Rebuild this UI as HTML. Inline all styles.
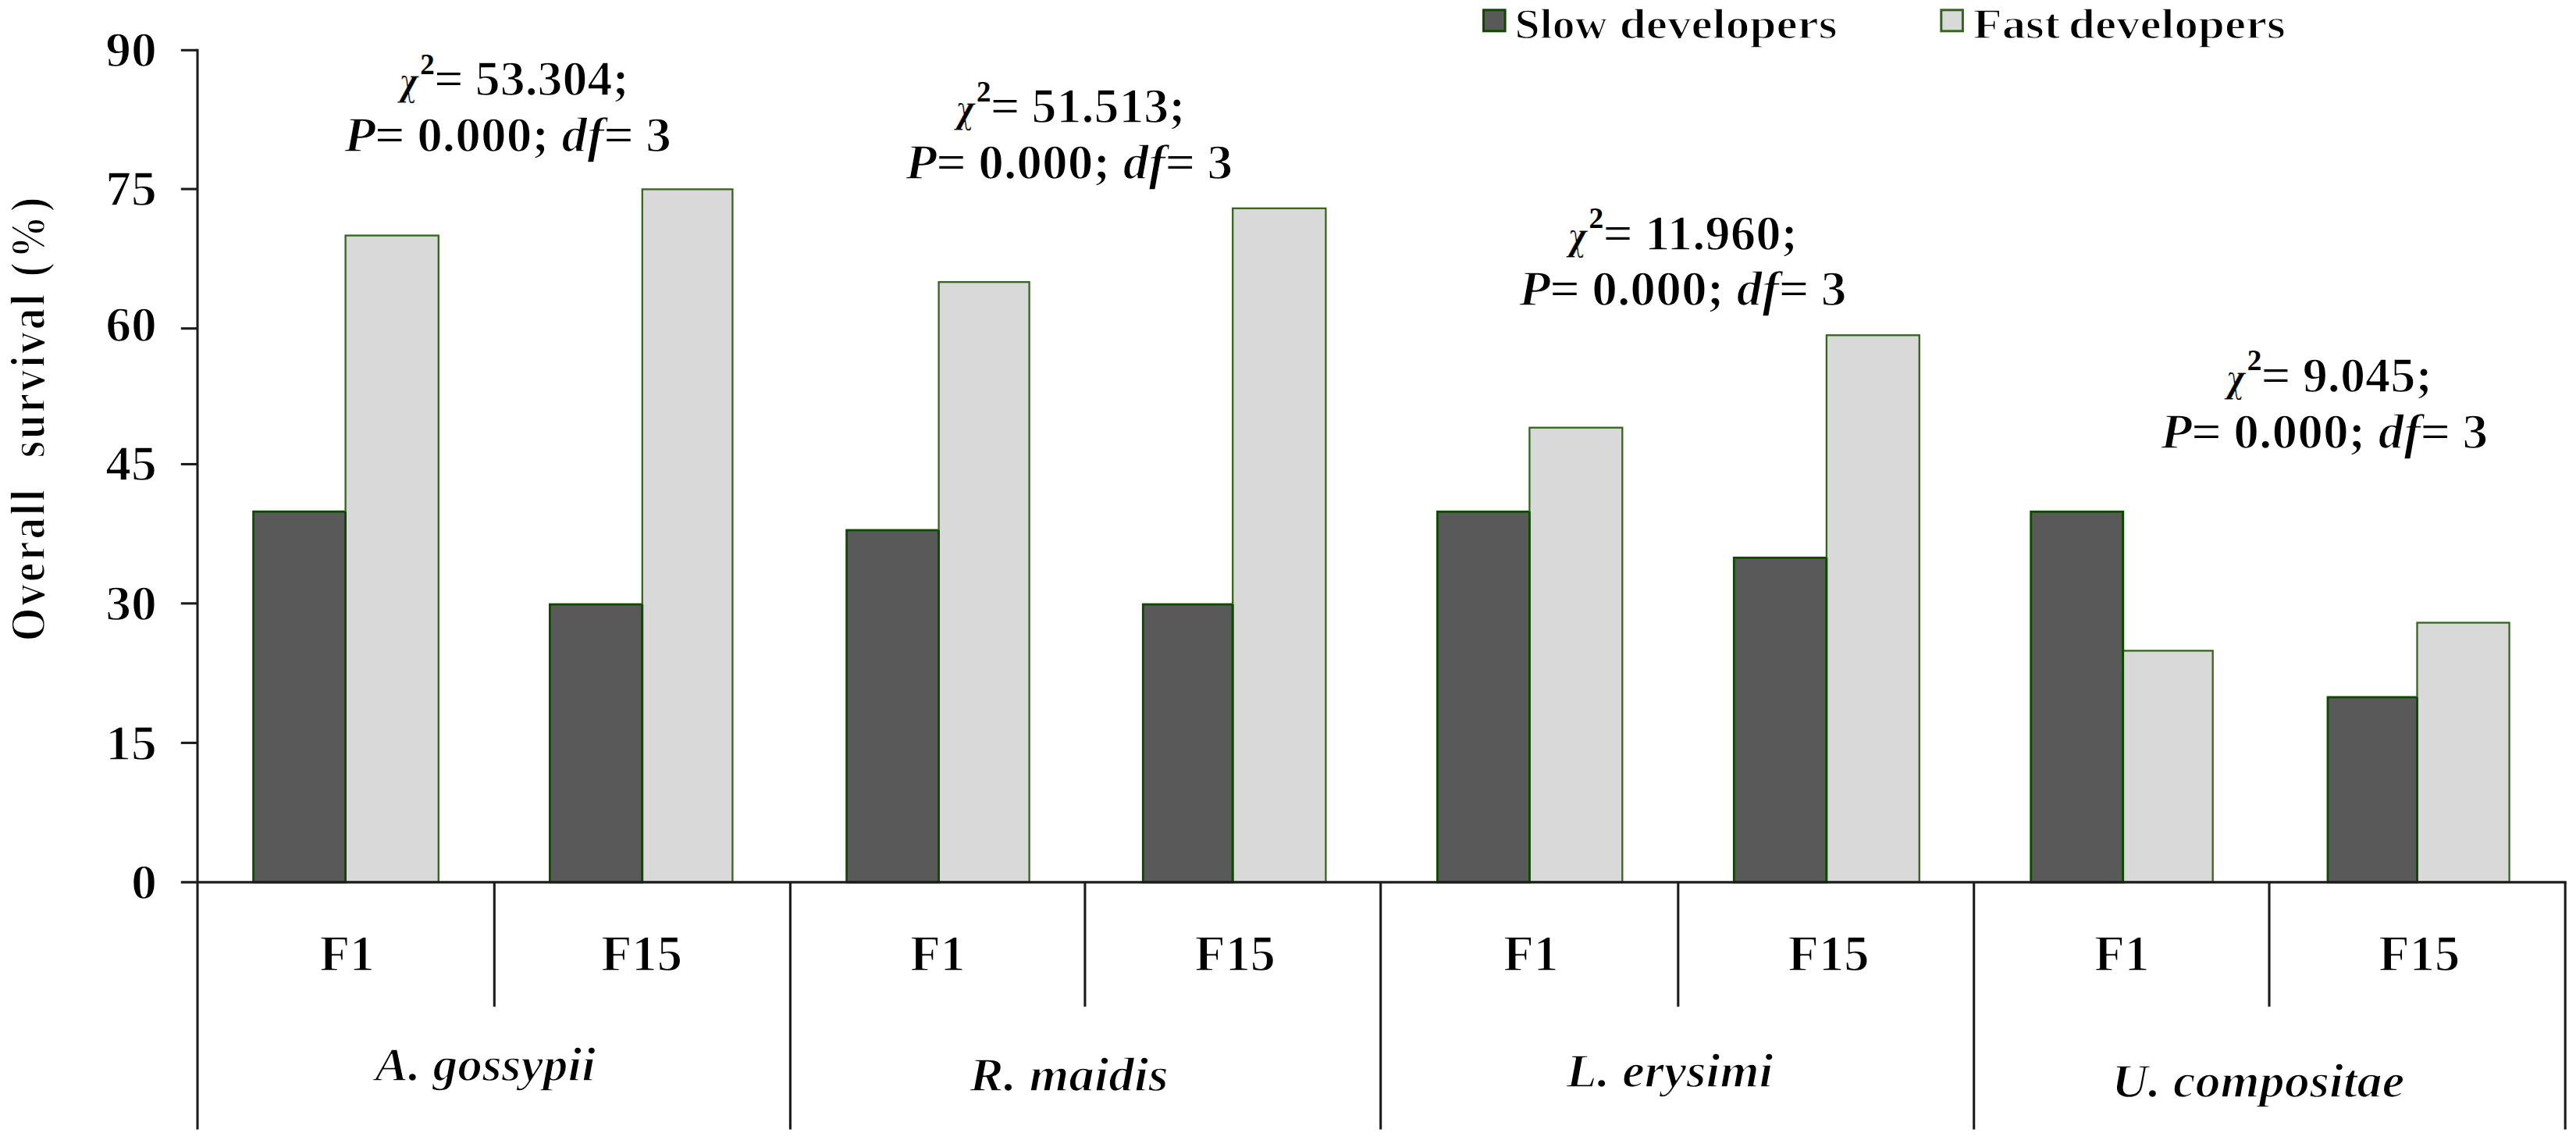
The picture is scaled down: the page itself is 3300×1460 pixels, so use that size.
<!DOCTYPE html>
<html lang="en"><head><meta charset="utf-8"><title>Overall survival chart</title>
<style>html,body{margin:0;padding:0;background:#fff;overflow:hidden}svg{display:block}text{font-family:"Liberation Serif","DejaVu Serif",serif;font-weight:bold;fill:#000;stroke:#fff;stroke-width:1.5px;stroke-linejoin:round}.i{font-style:italic}.r{font-weight:normal;stroke:none}.x{font-family:"DejaVu Serif","Liberation Serif",serif;stroke-width:.8px}</style></head><body>
<svg width="3300" height="1460" viewBox="0 0 3300 1460">
<rect x="0" y="0" width="3300" height="1460" fill="#fff"/>
<g>
<rect x="324.60" y="655.20" width="118.00" height="474.70" fill="#595959" stroke="#0d4a00" stroke-width="2.80"/>
<rect x="442.60" y="301.60" width="119.20" height="828.30" fill="#d9d9d9" stroke="#33661a" stroke-width="2.30"/>
<line x1="442.60" y1="655.20" x2="442.60" y2="1129.90" stroke="#0d4a00" stroke-width="2.80"/>
<rect x="704.40" y="774.00" width="118.40" height="355.90" fill="#595959" stroke="#0d4a00" stroke-width="2.80"/>
<rect x="822.80" y="242.40" width="115.60" height="887.50" fill="#d9d9d9" stroke="#33661a" stroke-width="2.30"/>
<line x1="822.80" y1="774.00" x2="822.80" y2="1129.90" stroke="#0d4a00" stroke-width="2.80"/>
<rect x="1084.60" y="679.00" width="118.00" height="450.90" fill="#595959" stroke="#0d4a00" stroke-width="2.80"/>
<rect x="1202.60" y="361.20" width="116.00" height="768.70" fill="#d9d9d9" stroke="#33661a" stroke-width="2.30"/>
<line x1="1202.60" y1="679.00" x2="1202.60" y2="1129.90" stroke="#0d4a00" stroke-width="2.80"/>
<rect x="1464.30" y="774.00" width="114.90" height="355.90" fill="#595959" stroke="#0d4a00" stroke-width="2.80"/>
<rect x="1579.20" y="266.80" width="119.20" height="863.10" fill="#d9d9d9" stroke="#33661a" stroke-width="2.30"/>
<line x1="1579.20" y1="774.00" x2="1579.20" y2="1129.90" stroke="#0d4a00" stroke-width="2.80"/>
<rect x="1841.40" y="655.30" width="118.00" height="474.60" fill="#595959" stroke="#0d4a00" stroke-width="2.80"/>
<rect x="1959.40" y="547.70" width="118.90" height="582.20" fill="#d9d9d9" stroke="#33661a" stroke-width="2.30"/>
<line x1="1959.40" y1="655.30" x2="1959.40" y2="1129.90" stroke="#0d4a00" stroke-width="2.80"/>
<rect x="2221.30" y="714.30" width="118.60" height="415.60" fill="#595959" stroke="#0d4a00" stroke-width="2.80"/>
<rect x="2339.90" y="429.30" width="118.90" height="700.60" fill="#d9d9d9" stroke="#33661a" stroke-width="2.30"/>
<line x1="2339.90" y1="714.30" x2="2339.90" y2="1129.90" stroke="#0d4a00" stroke-width="2.80"/>
<rect x="2601.70" y="655.30" width="118.00" height="474.60" fill="#595959" stroke="#0d4a00" stroke-width="2.80"/>
<rect x="2719.70" y="833.40" width="115.00" height="296.50" fill="#d9d9d9" stroke="#33661a" stroke-width="2.30"/>
<line x1="2719.70" y1="655.30" x2="2719.70" y2="1129.90" stroke="#0d4a00" stroke-width="2.80"/>
<rect x="2982.00" y="892.90" width="114.50" height="237.00" fill="#595959" stroke="#0d4a00" stroke-width="2.80"/>
<rect x="3096.50" y="797.50" width="118.10" height="332.40" fill="#d9d9d9" stroke="#33661a" stroke-width="2.30"/>
<line x1="3096.50" y1="892.90" x2="3096.50" y2="1129.90" stroke="#0d4a00" stroke-width="2.80"/>
</g>
<g stroke="#1c1c1c" stroke-width="3.10" fill="none" stroke-linecap="butt">
<line x1="253.00" y1="62.75" x2="253.00" y2="1446.60"/>
<line x1="231.80" y1="1129.90" x2="3287.75" y2="1129.90"/>
<line x1="231.80" y1="64.30" x2="253.00" y2="64.30"/>
<line x1="231.80" y1="242.10" x2="253.00" y2="242.10"/>
<line x1="231.80" y1="420.70" x2="253.00" y2="420.70"/>
<line x1="231.80" y1="594.50" x2="253.00" y2="594.50"/>
<line x1="231.80" y1="772.80" x2="253.00" y2="772.80"/>
<line x1="231.80" y1="951.40" x2="253.00" y2="951.40"/>
<line x1="633.30" y1="1129.90" x2="633.30" y2="1289.30"/>
<line x1="1012.40" y1="1129.90" x2="1012.40" y2="1446.60"/>
<line x1="1389.90" y1="1129.90" x2="1389.90" y2="1289.30"/>
<line x1="1768.70" y1="1129.90" x2="1768.70" y2="1446.60"/>
<line x1="2149.80" y1="1129.90" x2="2149.80" y2="1289.30"/>
<line x1="2528.70" y1="1129.90" x2="2528.70" y2="1446.60"/>
<line x1="2907.00" y1="1129.90" x2="2907.00" y2="1289.30"/>
<line x1="3286.20" y1="1129.90" x2="3286.20" y2="1446.60"/>
</g>
<text x="200.90" y="85.10" font-size="64.00" textLength="65.60" lengthAdjust="spacingAndGlyphs" text-anchor="end" id="yt90" xml:space="preserve">90</text>
<text x="200.90" y="263.20" font-size="64.00" textLength="65.60" lengthAdjust="spacingAndGlyphs" text-anchor="end" id="yt75" xml:space="preserve">75</text>
<text x="200.90" y="437.40" font-size="64.00" textLength="65.60" lengthAdjust="spacingAndGlyphs" text-anchor="end" id="yt60" xml:space="preserve">60</text>
<text x="200.90" y="615.30" font-size="64.00" textLength="65.60" lengthAdjust="spacingAndGlyphs" text-anchor="end" id="yt45" xml:space="preserve">45</text>
<text x="200.90" y="794.20" font-size="64.00" textLength="65.60" lengthAdjust="spacingAndGlyphs" text-anchor="end" id="yt30" xml:space="preserve">30</text>
<text x="200.90" y="972.70" font-size="64.00" textLength="65.60" lengthAdjust="spacingAndGlyphs" text-anchor="end" id="yt15" xml:space="preserve">15</text>
<text x="200.90" y="1150.50" font-size="64.00" textLength="33.00" lengthAdjust="spacingAndGlyphs" text-anchor="end" id="yt0" xml:space="preserve">0</text>
<text x="409.40" y="1243.40" font-size="64.60" textLength="70.40" lengthAdjust="spacingAndGlyphs" id="f0" xml:space="preserve">F1</text>
<text x="769.90" y="1243.40" font-size="64.60" textLength="104.10" lengthAdjust="spacingAndGlyphs" id="f1" xml:space="preserve">F15</text>
<text x="1166.00" y="1243.40" font-size="64.60" textLength="70.50" lengthAdjust="spacingAndGlyphs" id="f2" xml:space="preserve">F1</text>
<text x="1530.60" y="1243.40" font-size="64.60" textLength="103.30" lengthAdjust="spacingAndGlyphs" id="f3" xml:space="preserve">F15</text>
<text x="1926.00" y="1243.40" font-size="64.60" textLength="70.50" lengthAdjust="spacingAndGlyphs" id="f4" xml:space="preserve">F1</text>
<text x="2290.60" y="1243.40" font-size="64.60" textLength="104.10" lengthAdjust="spacingAndGlyphs" id="f5" xml:space="preserve">F15</text>
<text x="2683.00" y="1243.40" font-size="64.60" textLength="70.50" lengthAdjust="spacingAndGlyphs" id="f6" xml:space="preserve">F1</text>
<text x="3047.30" y="1243.40" font-size="64.60" textLength="104.10" lengthAdjust="spacingAndGlyphs" id="f7" xml:space="preserve">F15</text>
<text x="480.40" y="1384.30" font-size="62.30" textLength="282.40" lengthAdjust="spacingAndGlyphs" class="i" id="sp0" xml:space="preserve">A. gossypii</text>
<text x="1242.00" y="1396.70" font-size="62.30" textLength="254.70" lengthAdjust="spacingAndGlyphs" class="i" id="sp1" xml:space="preserve">R. maidis</text>
<text x="2006.60" y="1392.30" font-size="62.30" textLength="264.90" lengthAdjust="spacingAndGlyphs" class="i" id="sp2" xml:space="preserve">L. erysimi</text>
<text x="2705.40" y="1405.10" font-size="62.30" textLength="374.90" lengthAdjust="spacingAndGlyphs" class="i" id="sp3" xml:space="preserve">U. compositae</text>
<text x="0.00" y="0.00" font-size="48.30" class="i x" transform="translate(511.00 122.10) scale(0.76 1)" id="a0x" xml:space="preserve">χ</text>
<text x="538.20" y="94.60" font-size="64.00" textLength="267.60" lengthAdjust="spacingAndGlyphs" id="a0a" xml:space="preserve"><tspan font-size="37" stroke="none">2</tspan><tspan class="r" dy="27.5">=</tspan> 53.304;</text>
<text x="440.90" y="194.40" font-size="64.00" textLength="419.20" lengthAdjust="spacingAndGlyphs" id="a0b" xml:space="preserve"><tspan class="i">P</tspan><tspan class="r">=</tspan> 0.000; <tspan class="i">df</tspan><tspan class="r">=</tspan> 3</text>
<text x="0.00" y="0.00" font-size="48.30" class="i x" transform="translate(1223.90 157.10) scale(0.76 1)" id="a1x" xml:space="preserve">χ</text>
<text x="1251.10" y="129.60" font-size="64.00" textLength="267.50" lengthAdjust="spacingAndGlyphs" id="a1a" xml:space="preserve"><tspan font-size="37" stroke="none">2</tspan><tspan class="r" dy="27.5">=</tspan> 51.513;</text>
<text x="1160.00" y="228.90" font-size="64.00" textLength="419.20" lengthAdjust="spacingAndGlyphs" id="a1b" xml:space="preserve"><tspan class="i">P</tspan><tspan class="r">=</tspan> 0.000; <tspan class="i">df</tspan><tspan class="r">=</tspan> 3</text>
<text x="0.00" y="0.00" font-size="48.30" class="i x" transform="translate(2008.30 319.80) scale(0.76 1)" id="a2x" xml:space="preserve">χ</text>
<text x="2035.50" y="292.30" font-size="64.00" textLength="267.60" lengthAdjust="spacingAndGlyphs" id="a2a" xml:space="preserve"><tspan font-size="37" stroke="none">2</tspan><tspan class="r" dy="27.5">=</tspan> 11.960;</text>
<text x="1945.90" y="390.70" font-size="64.00" textLength="419.60" lengthAdjust="spacingAndGlyphs" id="a2b" xml:space="preserve"><tspan class="i">P</tspan><tspan class="r">=</tspan> 0.000; <tspan class="i">df</tspan><tspan class="r">=</tspan> 3</text>
<text x="0.00" y="0.00" font-size="48.30" class="i x" transform="translate(2851.50 501.60) scale(0.76 1)" id="a3x" xml:space="preserve">χ</text>
<text x="2878.70" y="474.10" font-size="64.00" textLength="237.20" lengthAdjust="spacingAndGlyphs" id="a3a" xml:space="preserve"><tspan font-size="37" stroke="none">2</tspan><tspan class="r" dy="27.5">=</tspan> 9.045;</text>
<text x="2768.10" y="574.25" font-size="64.00" textLength="419.20" lengthAdjust="spacingAndGlyphs" id="a3b" xml:space="preserve"><tspan class="i">P</tspan><tspan class="r">=</tspan> 0.000; <tspan class="i">df</tspan><tspan class="r">=</tspan> 3</text>
<text x="0.00" y="48.90" font-size="54.70" id="lg0" xml:space="preserve"><tspan x="1940.6" textLength="118.5" lengthAdjust="spacingAndGlyphs">Slow</tspan> <tspan x="2074.8" textLength="278.8" lengthAdjust="spacingAndGlyphs">developers</tspan></text>
<text x="0.00" y="48.90" font-size="54.70" id="lg1" xml:space="preserve"><tspan x="2527.5" textLength="111.5" lengthAdjust="spacingAndGlyphs">Fast</tspan> <tspan x="2650.0" textLength="277.8" lengthAdjust="spacingAndGlyphs">developers</tspan></text>
<text x="0.00" y="0.00" font-size="55.00" letter-spacing="2.900" transform="translate(56.6 821.3) rotate(-90) scale(1 1.17)" id="ytitle" xml:space="preserve">Overall  <tspan x="235">survival</tspan> <tspan x="466.7" letter-spacing="5.2">(%)</tspan></text>
<rect x="1900.50" y="12.80" width="27.60" height="27.00" fill="#595959" stroke="#0d4a00" stroke-width="3"/>
<rect x="2486.80" y="12.80" width="27.60" height="27.00" fill="#d9d9d9" stroke="#33661a" stroke-width="3"/>
</svg></body></html>
